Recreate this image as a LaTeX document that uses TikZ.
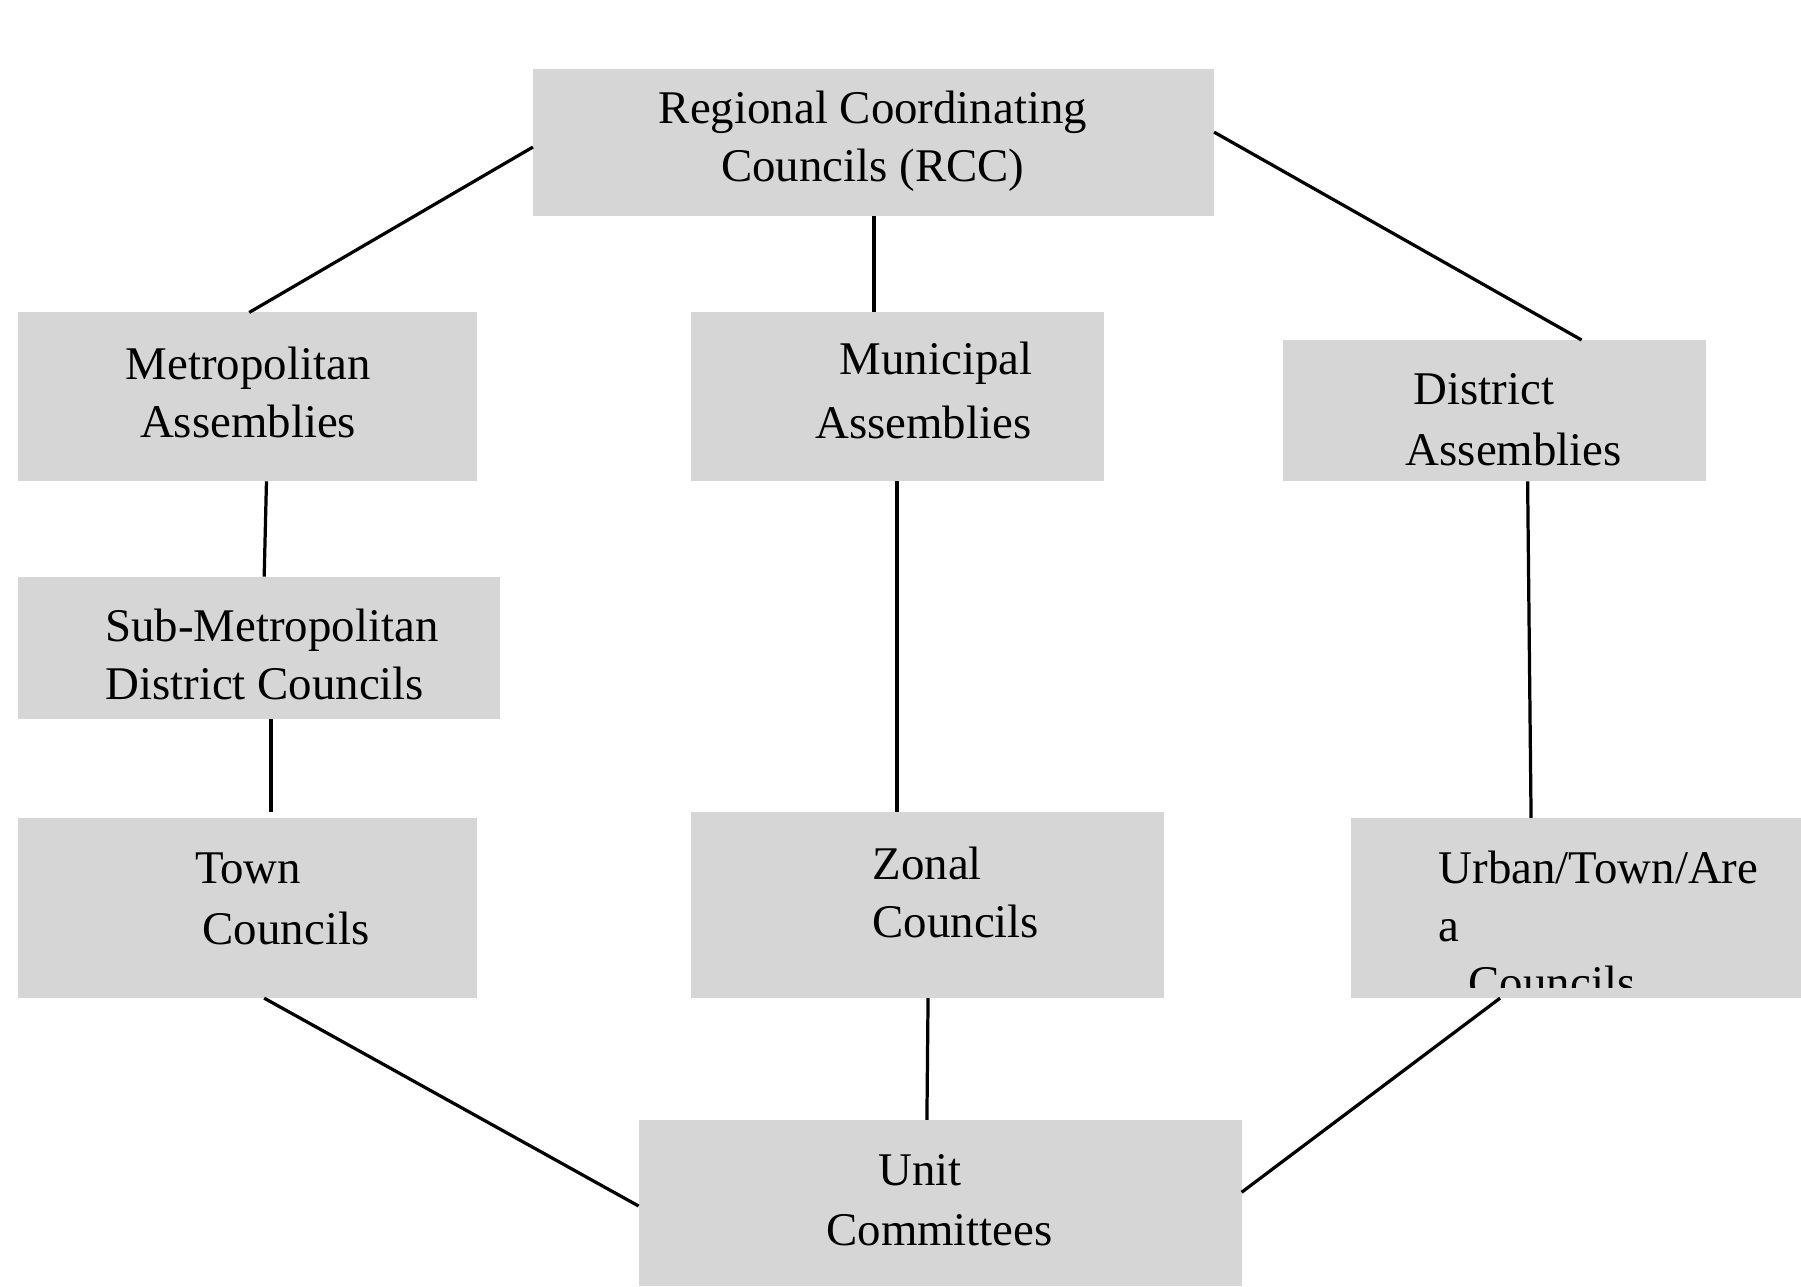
\documentclass[tikz,border=0pt]{standalone}
\usepackage{fontspec}
\setmainfont{Liberation Serif}
\begin{document}
\begin{tikzpicture}[x=0.01cm,y=-0.01cm,
  box/.style={fill=black!16,draw=none},
  txt/.style={font=\fontsize{11.6}{14.3}\selectfont,inner sep=0pt},
  conn/.style={line width=0.8pt}]
\useasboundingbox (0,0) rectangle (1568,1120);
\fill[box] (464,60) rectangle (1057,188) coordinate (rccBR);
\fill[box] (16,272) rectangle (415,419);
\fill[box] (602,272) rectangle (961,419);
\fill[box] (1117,296) rectangle (1485,419);
\fill[box] (16,502) rectangle (435,626);
\fill[box] (16,712) rectangle (415,869);
\fill[box] (602,707) rectangle (1013,869);
\fill[box] (1176,712) rectangle (1568,869);
\fill[box] (556,975) rectangle (1081,1120);
% texts
\node[txt,align=center] (rcc) at (760,123) {Regional Coordinating\\Councils (RCC)};
\node[txt,align=center] (met) at (216,342) {Metropolitan\\Assemblies};
\node[txt] (mun1) at (815,316) {Municipal};
\node[txt] (mun2) at (804,368) {Assemblies};
\node[txt,anchor=west] (dis1) at (1230,339) {District};
\node[txt] (dis2) at (1318,391) {Assemblies};
\node[txt,align=left,anchor=west] (sub) at (91,570) {Sub-Metropolitan\\District Councils};
\node[txt] (town1) at (216,756) {Town};
\node[txt] (town2) at (249,808) {Councils};
\node[txt,align=left,anchor=west] (zon) at (759,777) {Zonal\\Councils};
\begin{scope}
\clip (1176,712) rectangle (1568,860);
\node[txt,align=left,anchor=north west] (urb) at (1252,740) {Urban/Town/Are\\a\\\hspace{2.6mm}Councils};
\end{scope}
\node[txt] (unit1) at (801,1019) {Unit};
\node[txt] (unit2) at (818,1071) {Committees};
% connectors
\coordinate (a1) at (464,128); \coordinate (a2) at (217,272);
\coordinate (b1) at (761,188); \coordinate (b2) at (761,272);
\coordinate (c1) at (1057,115); \coordinate (c2) at (1377,296);
\coordinate (d1) at (232,419); \coordinate (d2) at (230,502);
\coordinate (e1) at (236,626); \coordinate (e2) at (236,707);
\coordinate (f1) at (781,419); \coordinate (f2) at (781,707);
\coordinate (g1) at (1330,419); \coordinate (g2) at (1333,712);
\coordinate (h1) at (230,869); \coordinate (h2) at (556,1050);
\coordinate (i1) at (808,869); \coordinate (i2) at (807,975);
\coordinate (j1) at (1306,869); \coordinate (j2) at (1081,1038);
\foreach \p in {a,b,c,d,e,f,g,h,i,j} \draw[conn] (\p1) -- (\p2);
\end{tikzpicture}
\end{document}
